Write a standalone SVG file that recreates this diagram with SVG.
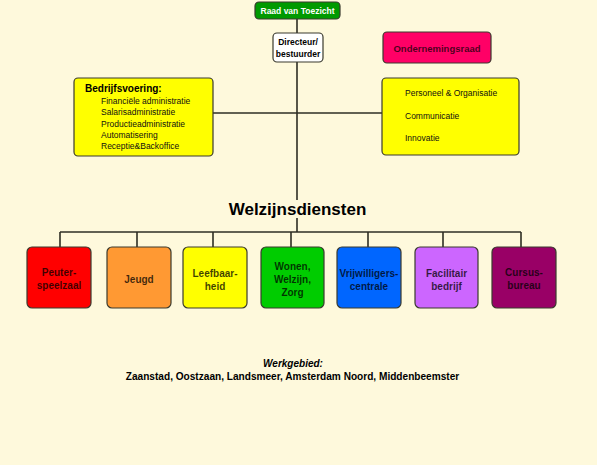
<svg xmlns="http://www.w3.org/2000/svg" width="597" height="465" viewBox="0 0 597 465">
<style>
text{font-family:"Liberation Sans",Arial,sans-serif}
.c{stroke:#2e2e24;stroke-width:1.6;fill:none}
.box{stroke:#3a3a2e;stroke-width:1.2}
.lbl{font-size:10px;font-weight:bold;text-anchor:middle;fill:#000;fill-opacity:0.75}
.item{font-size:8.5px;fill:#111}
</style>
<rect width="597" height="465" fill="#FEF9DC"/>
<g id="connectors">
<line class="c" x1="297" y1="18" x2="297" y2="33"/>
<line class="c" x1="297" y1="62" x2="297" y2="200"/>
<line class="c" x1="213" y1="113" x2="382" y2="113"/>
<line class="c" x1="297" y1="218" x2="297" y2="232"/>
<line class="c" x1="60" y1="232" x2="521" y2="232"/>
<line class="c" x1="60" y1="232" x2="60" y2="247"/>
<line class="c" x1="137" y1="232" x2="137" y2="247"/>
<line class="c" x1="213" y1="232" x2="213" y2="247"/>
<line class="c" x1="291" y1="232" x2="291" y2="247"/>
<line class="c" x1="368" y1="232" x2="368" y2="247"/>
<line class="c" x1="443" y1="232" x2="443" y2="247"/>
<line class="c" x1="521" y1="232" x2="521" y2="247"/>
</g>
<g id="raad">
<rect class="box" x="255" y="2" width="85" height="17" rx="4" fill="#009A00"/>
<text x="297.5" y="14" font-size="8.5" font-weight="bold" fill="#fff" text-anchor="middle">Raad van Toezicht</text>
</g>
<g id="directeur">
<rect class="box" x="273" y="33" width="50" height="29" rx="4" fill="#fff"/>
<text x="298" y="45" font-size="8.5" font-weight="bold" fill="#000" text-anchor="middle">Directeur/</text>
<text x="298" y="57" font-size="8.5" font-weight="bold" fill="#000" text-anchor="middle">bestuurder</text>
</g>
<g id="ondernemingsraad">
<rect class="box" x="383" y="32" width="108" height="31" rx="4" fill="#FF0066"/>
<text x="437" y="51.5" font-size="9.5" font-weight="bold" fill="#000" fill-opacity="0.72" text-anchor="middle">Ondernemingsraad</text>
</g>
<g id="bedrijfsvoering">
<rect class="box" x="74" y="78" width="139" height="78" rx="4" fill="#FFFF00"/>
<text x="85" y="92" font-size="10" font-weight="bold" fill="#000">Bedrijfsvoering:</text>
<text class="item" x="101" y="104">Financiële administratie</text>
<text class="item" x="101" y="115.3">Salarisadministratie</text>
<text class="item" x="101" y="126.6">Productieadministratie</text>
<text class="item" x="101" y="137.9">Automatisering</text>
<text class="item" x="101" y="149.2">Receptie&amp;Backoffice</text>
</g>
<g id="personeel">
<rect class="box" x="382" y="78" width="137" height="77" rx="4" fill="#FFFF00"/>
<text class="item" x="405" y="96">Personeel &amp; Organisatie</text>
<text class="item" x="405" y="118.5">Communicatie</text>
<text class="item" x="405" y="140.5">Innovatie</text>
</g>
<g id="welzijnsdiensten">
<text x="297.5" y="215" font-size="17" font-weight="bold" fill="#000" text-anchor="middle">Welzijnsdiensten</text>
</g>
<g id="peuterspeelzaal">
<rect class="box" x="27" y="247" width="64" height="61" rx="5" fill="#FF0000"/>
<text class="lbl" x="59" y="276">Peuter-</text>
<text class="lbl" x="59" y="288.5">speelzaal</text>
</g>
<g id="jeugd">
<rect class="box" x="107" y="247" width="64" height="61" rx="5" fill="#FF9933"/>
<text class="lbl" x="139" y="282.5">Jeugd</text>
</g>
<g id="leefbaarheid">
<rect class="box" x="183" y="247" width="64" height="61" rx="5" fill="#FFFF00"/>
<text class="lbl" x="215" y="277">Leefbaar-</text>
<text class="lbl" x="215" y="290">heid</text>
</g>
<g id="wonen">
<rect class="box" x="261" y="247" width="63" height="61" rx="5" fill="#00CC00"/>
<text class="lbl" x="292.5" y="269.5">Wonen,</text>
<text class="lbl" x="292.5" y="282.5">Welzijn,</text>
<text class="lbl" x="292.5" y="295.5">Zorg</text>
</g>
<g id="vrijwilligerscentrale">
<rect class="box" x="337" y="247" width="64" height="61" rx="5" fill="#0066FF"/>
<text class="lbl" x="369" y="277">Vrijwilligers-</text>
<text class="lbl" x="369" y="290">centrale</text>
</g>
<g id="facilitair">
<rect class="box" x="415" y="247" width="63" height="61" rx="5" fill="#CC66FF"/>
<text class="lbl" x="446.5" y="277">Facilitair</text>
<text class="lbl" x="446.5" y="290">bedrijf</text>
</g>
<g id="cursusbureau">
<rect class="box" x="492" y="247" width="64" height="61" rx="5" fill="#990066"/>
<text class="lbl" x="524" y="276">Cursus-</text>
<text class="lbl" x="524" y="289">bureau</text>
</g>
<g id="werkgebied">
<text x="293" y="367" font-size="10" font-weight="bold" font-style="italic" fill="#000" text-anchor="middle">Werkgebied:</text>
<text x="292.5" y="380" font-size="10.1" font-weight="bold" fill="#000" text-anchor="middle">Zaanstad, Oostzaan, Landsmeer, Amsterdam Noord, Middenbeemster</text>
</g>
</svg>
